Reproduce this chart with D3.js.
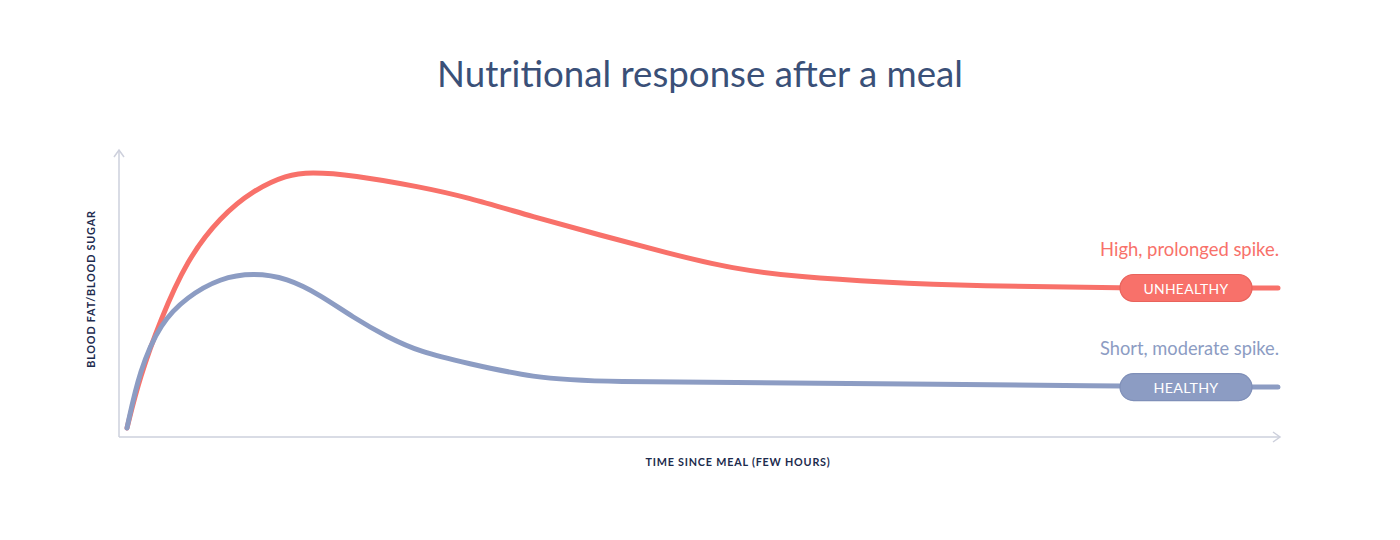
<!DOCTYPE html>
<html><head><meta charset="utf-8">
<script src="https://cdn.jsdelivr.net/npm/d3@7/dist/d3.min.js"></script>
<style>
html,body{margin:0;padding:0;background:#fff;}
svg{display:block;}
text{font-family:"Lato","Open Sans",sans-serif;}
</style></head>
<body><svg id="c" width="1400" height="540"></svg>
<script>
// ---- data ----
const title = "Nutritional response after a meal";
const xLabel = "TIME SINCE MEAL (FEW HOURS)";
const yLabel = "BLOOD FAT/BLOOD SUGAR";
const seriesNames = ["UNHEALTHY", "HEALTHY"];
const seriesNotes = ["High, prolonged spike.", "Short, moderate spike."];
// time (0-100 relative) and level (0-100 relative)
const unhealthyX = [0, 1.1, 2.9, 5.2, 8.1, 11.0, 13.9, 15.9, 19.6, 25.5, 29.5, 35.3, 41.1, 46.9, 52.6, 58.5, 65.4, 74.1, 85.7, 100];
const unhealthyY = [0, 18, 38.6, 60, 75.4, 85, 90.4, 91.4, 90.4, 86.1, 82.5, 75.4, 68.9, 62.5, 56.8, 53.9, 52.1, 50.7, 50, 50];
const healthyX = [0, 1.1, 2.9, 5.2, 8.1, 11.0, 13.9, 16.8, 19.6, 22.6, 25.5, 29.5, 35.3, 41.1, 58.5, 85.7, 100];
const healthyY = [0, 20.7, 37.5, 46.8, 53.6, 55.4, 53.6, 47.5, 39.6, 32.5, 27.1, 23.2, 17.9, 16.4, 16.1, 15, 14.6];

const colors = ["#f8716a", "#8c9cc3"];
const pillStroke = ["#e9635c", "#7f8fb8"];

const svg = d3.select("#c");
const x = d3.scaleLinear().domain([0, 100]).range([127, 1278]);
const y = d3.scaleLinear().domain([0, 100]).range([428, 148]);

function fit(sel, target) {
  const w = sel.node().getComputedTextLength();
  const fs = parseFloat(sel.attr("font-size"));
  sel.attr("font-size", fs * target / w);
}

// title
const t = svg.append("text").attr("x", 700).attr("y", 87).attr("text-anchor", "middle")
  .attr("font-size", 34).attr("fill", "#3a5078").text(title);
fit(t, 526);

// axes
const axisColor = "#cdd0dc";
const ax = svg.append("g").attr("fill", "none").attr("stroke", axisColor).attr("stroke-width", 1.5);
const axX0 = 119, axY0 = 437, axTop = 150, axRight = 1280;
ax.append("path").attr("d", `M${axX0},${axY0}V${axTop}`);
ax.append("path").attr("d", `M${axX0 - 5},${axTop + 7}L${axX0},${axTop}L${axX0 + 5},${axTop + 7}`);
ax.append("path").attr("d", `M${axX0},${axY0}H${axRight}`);
ax.append("path").attr("d", `M${axRight - 7},${axY0 - 5}L${axRight},${axY0}L${axRight - 7},${axY0 + 5}`);

// axis labels
const xl = svg.append("text").attr("x", 738).attr("y", 466).attr("text-anchor", "middle")
  .attr("font-size", 10.5).attr("letter-spacing", 0.8).attr("fill", "#1d2b4e").attr("font-weight", 700).text(xLabel);
fit(xl, 186);
const yl = svg.append("text").attr("transform", "translate(95,289) rotate(-90)").attr("text-anchor", "middle")
  .attr("font-size", 10.5).attr("letter-spacing", 0.8).attr("fill", "#1d2b4e").attr("font-weight", 700).text(yLabel);
fit(yl, 158);

// lines
const line = d3.line().x(d => x(d[0])).y(d => y(d[1])).curve(d3.curveBasis);
const series = [d3.zip(unhealthyX, unhealthyY), d3.zip(healthyX, healthyY)];
[0, 1].forEach(i => {
  svg.append("path").datum(series[i]).attr("d", line).attr("fill", "none")
    .attr("stroke", colors[i]).attr("stroke-width", 5).attr("stroke-linecap", "round");
});

// pills and notes
const pillX0 = 1120, pillW = 132, pillH = 27;
[0, 1].forEach(i => {
  const last = series[i][series[i].length - 1];
  const cy = y(last[1]);
  svg.append("rect").attr("x", pillX0).attr("y", cy - pillH / 2).attr("width", pillW).attr("height", pillH)
    .attr("rx", pillH / 2).attr("fill", colors[i]).attr("stroke", pillStroke[i]).attr("stroke-width", 1.2);
  const pt = svg.append("text").attr("x", pillX0 + pillW / 2).attr("y", cy + 5.5).attr("text-anchor", "middle")
    .attr("font-size", 15).attr("fill", "#fff").attr("letter-spacing", 0.3).text(seriesNames[i]);
  fit(pt, i === 0 ? 85 : 65);
  const nt = svg.append("text").attr("x", 1279).attr("y", cy - 32).attr("text-anchor", "end")
    .attr("font-size", 17).attr("fill", colors[i]).text(seriesNotes[i]);
  fit(nt, 179);
});
</script>
</body></html>
